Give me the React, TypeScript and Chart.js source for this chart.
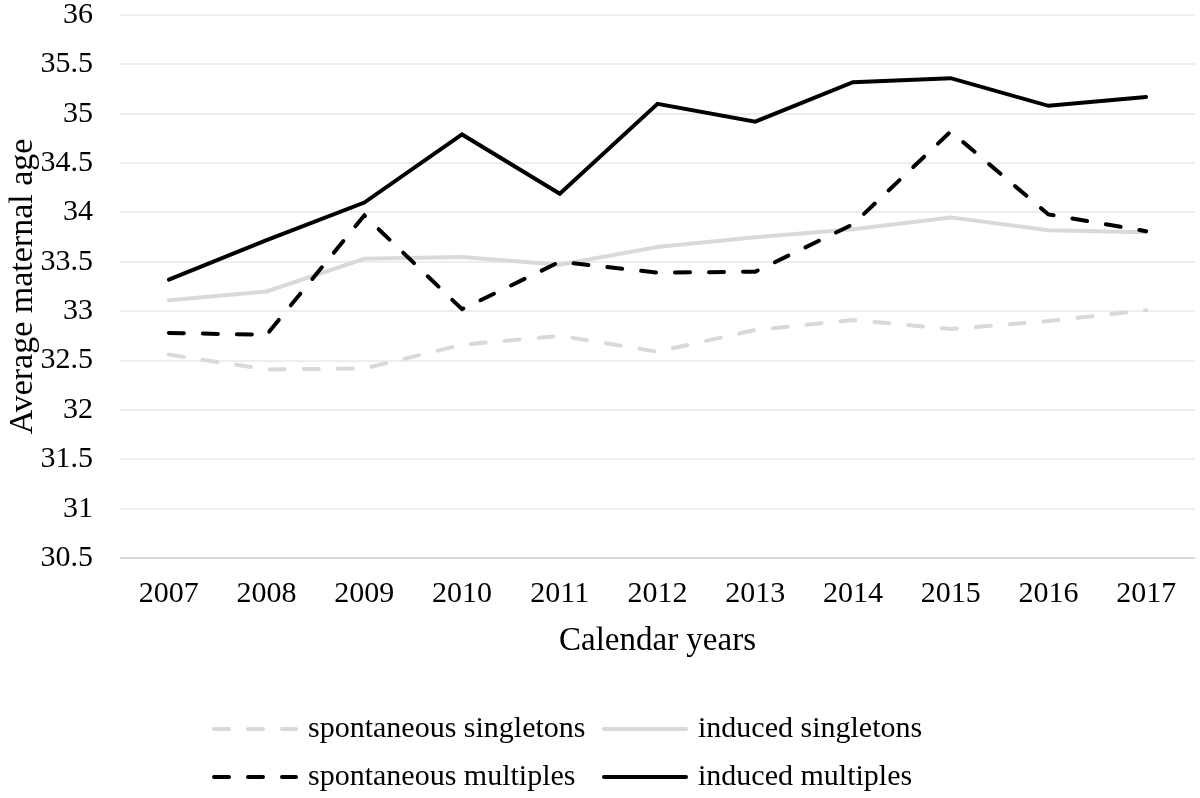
import React, { useEffect, useRef } from "react";
import { Chart, registerables } from "chart.js";

Chart.register(...registerables);

const years = ["2007", "2008", "2009", "2010", "2011", "2012", "2013", "2014", "2015", "2016", "2017"];
const spontaneousSingletons = [32.56, 32.41, 32.42, 32.66, 32.75, 32.59, 32.81, 32.91, 32.82, 32.9, 33.01];
const inducedSingletons = [33.11, 33.2, 33.53, 33.55, 33.47, 33.65, 33.75, 33.83, 33.95, 33.82, 33.8];
const spontaneousMultiples = [32.78, 32.76, 33.97, 33.02, 33.5, 33.39, 33.4, 33.88, 34.82, 33.98, 33.81];
const inducedMultiples = [33.32, 33.72, 34.1, 34.79, 34.19, 35.1, 34.92, 35.32, 35.36, 35.08, 35.17];
const seriesNames = ["spontaneous singletons", "induced singletons", "spontaneous multiples", "induced multiples"];
const yMin = 30.5;
const yMax = 36;
const yStep = 0.5;
const xTitle = "Calendar years";
const yTitle = "Average maternal age";

const FONT = "'Liberation Serif', 'Times New Roman', serif";
const GRAY = "#d9d9d9";
const BLACK = "#000000";
const DASH = [15, 19];

const legendPlugin = {
  id: "gridLegend",
  afterDraw(chart: any) {
    const ctx = chart.ctx;
    const cols = [212, 602];
    const rows = [729, 777];
    const sampleW = 86;
    const gap = 10;
    ctx.save();
    ctx.font = `30px ${FONT}`;
    ctx.textBaseline = "middle";
    ctx.textAlign = "left";
    chart.data.datasets.forEach((ds: any, i: number) => {
      const x = cols[i % 2];
      const y = rows[Math.floor(i / 2)];
      ctx.strokeStyle = ds.borderColor;
      ctx.lineWidth = ds.borderWidth;
      ctx.lineCap = "round";
      ctx.setLineDash(ds.borderDash || []);
      ctx.beginPath();
      ctx.moveTo(x + 2, y);
      ctx.lineTo(x + sampleW - 2, y);
      ctx.stroke();
      ctx.setLineDash([]);
      ctx.fillStyle = "#000";
      ctx.fillText(ds.label, x + sampleW + gap, y);
    });
    ctx.restore();
  },
};

export default function App() {
  const ref = useRef<HTMLCanvasElement>(null);
  useEffect(() => {
    document.body.style.margin = "0";
    const canvas = ref.current;
    if (!canvas) return;
    const chart = new Chart(canvas, {
      type: "line",
      data: {
        labels: years,
        datasets: [
          {
            label: seriesNames[0],
            data: spontaneousSingletons,
            borderColor: GRAY,
            borderWidth: 4,
            borderDash: DASH,
            borderCapStyle: "round",
            pointRadius: 0,
            tension: 0,
            order: 2,
          },
          {
            label: seriesNames[1],
            data: inducedSingletons,
            borderColor: GRAY,
            borderWidth: 4,
            borderCapStyle: "round",
            pointRadius: 0,
            tension: 0,
            order: 2,
          },
          {
            label: seriesNames[2],
            data: spontaneousMultiples,
            borderColor: BLACK,
            borderWidth: 4,
            borderDash: DASH,
            borderCapStyle: "round",
            pointRadius: 0,
            tension: 0,
            order: 1,
          },
          {
            label: seriesNames[3],
            data: inducedMultiples,
            borderColor: BLACK,
            borderWidth: 4,
            borderCapStyle: "round",
            pointRadius: 0,
            tension: 0,
            order: 1,
          },
        ],
      },
      options: {
        responsive: false,
        animation: false,
        devicePixelRatio: 1,
        layout: { padding: { top: 15, right: 5, left: 0, bottom: 137 } },
        plugins: {
          legend: { display: false },
          tooltip: { enabled: false },
        },
        scales: {
          x: {
            offset: true,
            afterFit(scale: any) {
              scale.height = 103;
              scale.paddingLeft = 0;
              scale.paddingRight = 0;
              scale.paddingTop = 0;
              scale.paddingBottom = 0;
            },
            grid: { display: false, drawTicks: false },
            border: { display: false },
            ticks: {
              color: "#000",
              font: { family: FONT, size: 30 },
              padding: 18,
              maxRotation: 0,
            },
            title: {
              display: true,
              text: xTitle,
              color: "#000",
              font: { family: FONT, size: 33 },
              padding: { top: 9, bottom: 0 },
            },
          },
          y: {
            min: yMin,
            max: yMax,
            afterFit(scale: any) {
              scale.width = 120;
              scale.paddingTop = 0;
              scale.paddingBottom = 0;
              scale.paddingLeft = 0;
              scale.paddingRight = 0;
            },
            grid: {
              color: (c: any) => (c.tick && c.tick.value === yMin ? "#d9d9d9" : "#eeeeee"),
              lineWidth: 2,
              drawTicks: false,
            },
            border: { display: false },
            ticks: {
              stepSize: yStep,
              color: "#000",
              font: { family: FONT, size: 30 },
              padding: 27,
              callback: (v: any) => String(Number(v)),
            },
            title: {
              display: true,
              text: yTitle,
              color: "#000",
              font: { family: FONT, size: 34 },
              padding: { top: 3, bottom: 0 },
            },
          },
        },
      },
      plugins: [legendPlugin],
    });
    return () => chart.destroy();
  }, []);
  return (
    <div style={{ width: 1200, height: 798, background: "#fff" }}>
      <canvas ref={ref} width={1200} height={798} />
    </div>
  );
}
